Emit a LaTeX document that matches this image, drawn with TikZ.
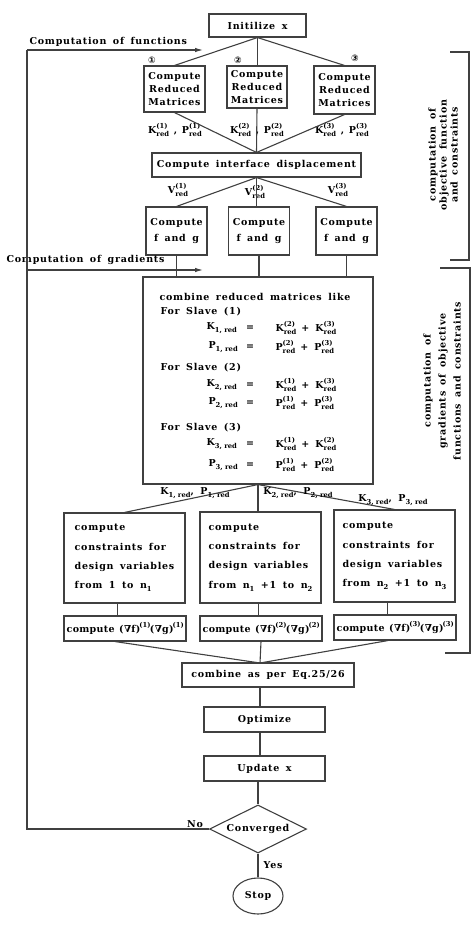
\documentclass[tikz,border=0pt]{standalone}
\usepackage{fontspec}
\setmainfont{DejaVu Serif}[LetterSpace=8,WordSpace=1.6]
\newfontfamily\subf{DejaVu Serif}[LetterSpace=0]
\newfontfamily\tightf{DejaVu Serif}[LetterSpace=3,WordSpace=1.3]
\newfontfamily\dvs{DejaVu Sans}
\usetikzlibrary{shapes.geometric,arrows.meta}
\newcommand\ssz{\subf\fontsize{6.8}{7}\selectfont}
\newcommand\ssb[3]{#1\rlap{\raisebox{1.05ex}{\ssz #2}}\raisebox{-0.6ex}{\ssz #3}}
\newcommand\sbb[2]{#1\raisebox{-0.6ex}{\ssz #2}}
\newcommand\spp[1]{\kern-1pt\raisebox{1.1ex}{\ssz #1}\kern-0.5pt}
\newcommand\pl{\hspace{5pt}+\hspace{6pt}}
\begin{document}
\begin{tikzpicture}[x=1pt,y=-1pt,line width=1.1pt,
  every node/.style={font=\bfseries\fontsize{9.5}{13}\selectfont,text=black},
  lk/.style={draw=black!75},
  arr/.style={draw=black!75,-{Latex[length=8pt,width=4.5pt]}},
  box/.style={draw=black!75,inner sep=0pt,align=center},
  txt/.style={inner sep=0pt},
  circ/.style={inner sep=0pt,font=\dvs\bfseries\fontsize{9}{10}\selectfont},
  cbox/.style={draw=black!75,inner sep=0pt,align=left,minimum width=121pt,font=\bfseries\fontsize{9.5}{19.3}\selectfont},
  gbox/.style={draw=black!75,inner sep=0pt,minimum width=122pt,minimum height=25pt,font=\tightf\bfseries\fontsize{9.5}{12}\selectfont},
  brk/.style={inner sep=0pt,rotate=90,align=center}]
\useasboundingbox (0,0) rectangle (474,925);
% top
\node[box,minimum width=97pt,minimum height=23pt] (init) at (257.5,25.5) {Initilize x};
\node[circ] (n1) at (152,60) {①};
\node[circ] (n2) at (238,60) {②};
\node[circ] (n3) at (355,58) {③};
\node[box,minimum width=61pt,minimum height=46pt] (r1) at (174.5,89) {Compute\\Reduced\\Matrices};
\node[box,minimum width=60pt,minimum height=42pt] (r2) at (257,87) {Compute\\Reduced\\Matrices};
\node[box,minimum width=61pt,minimum height=48pt] (r3) at (344.5,90) {Compute\\Reduced\\Matrices};
\draw[lk] (init.south) -- (r1.north);
\draw[lk] (init.south) -- (init.south |- r2.north);
\draw[lk] (init.south) -- (r3.north);
\node[txt] (kp1) at (175,130) {\ssb{K}{(1)}{red}\enspace,\enspace\ssb{P}{(1)}{red}};
\node[txt] (kp2) at (257,130) {\ssb{K}{(2)}{red}\enspace,\enspace\ssb{P}{(2)}{red}};
\node[txt] (kp3) at (342,130) {\ssb{K}{(3)}{red}\enspace,\enspace\ssb{P}{(3)}{red}};
\node[box,minimum width=209pt,minimum height=24pt] (iface) at (256.5,165) {Compute interface displacement};
\draw[lk] (r1.south) -- (iface.north);
\draw[lk] (r2.south) -- (iface.north);
\draw[lk] (r3.south) -- (iface.north);
\node[txt] (v1) at (178,190) {\ssb{V}{(1)}{red}};
\node[txt] (v2) at (255,192) {\ssb{V}{(2)}{red}};
\node[txt] (v3) at (338,190) {\ssb{V}{(3)}{red}};
\node[box,minimum width=61pt,minimum height=48pt,font=\bfseries\fontsize{9.5}{16}\selectfont] (f1) at (176.5,231) {Compute\\f and g};
\node[box,minimum width=61pt,minimum height=48pt,font=\bfseries\fontsize{9.5}{16}\selectfont] (f2) at (259,231) {Compute\\f and g};
\node[box,minimum width=61pt,minimum height=48pt,font=\bfseries\fontsize{9.5}{16}\selectfont] (f3) at (346.5,231) {Compute\\f and g};
\draw[lk] (iface.south) -- (f1.north);
\draw[lk] (iface.south) -- (iface.south |- f2.north);
\draw[lk] (iface.south) -- (f3.north);
% loop and labels
\node[txt,anchor=west] (lab1) at (29,42) {Computation of functions};
\node[txt,anchor=west] (lab2) at (6,260) {Computation of gradients};
\coordinate (lt) at (27,50);
\coordinate (tip1) at (203,50);
\coordinate (lg) at (27,270);
\coordinate (tip2) at (203,270);
% combine box
\node[box,minimum width=230pt,minimum height=207pt] (comb) at (258,380.5) {};
\draw[lk] (f1.south) -- (f1.south |- comb.north);
\draw[lk] (f2.south) -- (f2.south |- comb.north);
\draw[lk] (f3.south) -- (f3.south |- comb.north);
\draw[arr] (lg) -- (tip2);
\node[txt,anchor=west] (c0) at (159,297) {combine reduced matrices like};
\node[txt,anchor=west] (s1) at (160,312) {For Slave (1)};
\node[txt,anchor=west] (k1l) at (206,328) {\sbb{K}{1, red}};
\node[txt] (k1e) at (250,328) {=};
\node[txt,anchor=west] (k1r) at (275,328) {\ssb{K}{(2)}{red}\pl\ssb{K}{(3)}{red}};
\node[txt,anchor=west] (p1l) at (208,347) {\sbb{P}{1, red}};
\node[txt] (p1e) at (250,347) {=};
\node[txt,anchor=west] (p1r) at (275,347) {\ssb{P}{(2)}{red}\pl\ssb{P}{(3)}{red}};
\node[txt,anchor=west] (s2) at (160,368) {For Slave (2)};
\node[txt,anchor=west] (k2l) at (206,385) {\sbb{K}{2, red}};
\node[txt] (k2e) at (250,385) {=};
\node[txt,anchor=west] (k2r) at (275,385) {\ssb{K}{(1)}{red}\pl\ssb{K}{(3)}{red}};
\node[txt,anchor=west] (p2l) at (208,403) {\sbb{P}{2, red}};
\node[txt] (p2e) at (250,403) {=};
\node[txt,anchor=west] (p2r) at (275,403) {\ssb{P}{(1)}{red}\pl\ssb{P}{(3)}{red}};
\node[txt,anchor=west] (s3) at (160,428) {For Slave (3)};
\node[txt,anchor=west] (k3l) at (206,444) {\sbb{K}{3, red}};
\node[txt] (k3e) at (250,444) {=};
\node[txt,anchor=west] (k3r) at (275,444) {\ssb{K}{(1)}{red}\pl\ssb{K}{(2)}{red}};
\node[txt,anchor=west] (p3l) at (208,465) {\sbb{P}{3, red}};
\node[txt] (p3e) at (250,465) {=};
\node[txt,anchor=west] (p3r) at (275,465) {\ssb{P}{(1)}{red}\pl\ssb{P}{(2)}{red}};
% constraints
\node[cbox,minimum height=90pt] (c1) at (124.5,558) {compute\\constraints for\\design variables\\from 1 to \sbb{n}{1}};
\node[cbox,minimum height=91pt] (c2) at (260.5,557.5) {compute\\constraints for\\design variables\\from \sbb{n}{1} +1 to \sbb{n}{2}};
\node[cbox,minimum height=92pt] (c3) at (394.5,556) {compute\\constraints for\\design variables\\from \sbb{n}{2} +1 to \sbb{n}{3}};
\draw[lk] (comb.south) -- (c1.north);
\draw[lk] (comb.south) -- (comb.south |- c2.north);
\draw[lk] (comb.south) -- (c3.north);
\node[txt] (l1) at (195,493) {\sbb{K}{1, red}, \sbb{P}{1, red}};
\node[txt] (l2) at (298,493) {\sbb{K}{2, red}, \sbb{P}{2, red}};
\node[txt] (l3) at (393,500) {\sbb{K}{3, red}, \sbb{P}{3, red}};
% gradients
\node[gbox] (g1) at (125,628.5) {compute (∇f)\spp{(1)}(∇g)\spp{(1)}};
\node[gbox] (g2) at (261,628.5) {compute (∇f)\spp{(2)}(∇g)\spp{(2)}};
\node[gbox] (g3) at (395,627.5) {compute (∇f)\spp{(3)}(∇g)\spp{(3)}};
\draw[lk] ([xshift=-7pt]c1.south) -- ([xshift=-7pt]c1.south |- g1.north);
\draw[lk] ([xshift=-2pt]c2.south) -- ([xshift=-2pt]c2.south |- g2.north);
\draw[lk] ([xshift=-7pt]c3.south) -- ([xshift=-7pt]c3.south |- g3.north);
\coordinate (j4) at (260,663);
\node[box,minimum width=172pt,minimum height=24pt] (eq) at (268,675) {combine as per Eq.25/26};
\draw[lk] ([xshift=-10pt]g1.south) -- (j4);
\draw[lk] (g2.south) -- (j4);
\draw[lk] ([xshift=-7pt]g3.south) -- (j4);
\node[box,minimum width=121pt,minimum height=25pt] (opt) at (264.5,719.5) {Optimize};
\node[box,minimum width=121pt,minimum height=25pt] (upd) at (264.5,768.5) {Update x};
\node[draw=black!75,diamond,aspect=2,inner sep=0pt,minimum width=97pt,minimum height=48pt] (conv) at (258,829) {Converged};
\node[draw=black!75,ellipse,inner sep=0pt,minimum width=50pt,minimum height=36pt] (stop) at (258,896) {Stop};
\draw[lk] (eq.south -| j4) -- (opt.north -| j4);
\draw[lk] (opt.south -| j4) -- (upd.north -| j4);
\draw[lk] (upd.south -| conv.north) -- (conv.north);
\draw[lk] (conv.south) -- (stop.north);
\node[txt] (no) at (195,824) {No};
\node[txt] (yes) at (273,865) {Yes};
\draw[lk] (conv.west) -| (lt);
\draw[arr] (lt) -- (tip1);
% brackets
\draw[lk] (450,52) -- (469,52) -- (469,260) -- (450,260);
\draw[lk] (440,268) -- (470,268) -- (470,653) -- (445,653);
\node[brk,font=\bfseries\fontsize{9.5}{11}\selectfont] (bt1) at (443,155) {computation of\\objective function\\and constraints};
\node[brk,font=\bfseries\fontsize{9.5}{15}\selectfont] (bt2) at (442,381) {computation of\\gradients of objective\\functions and constraints};
\end{tikzpicture}
\end{document}
